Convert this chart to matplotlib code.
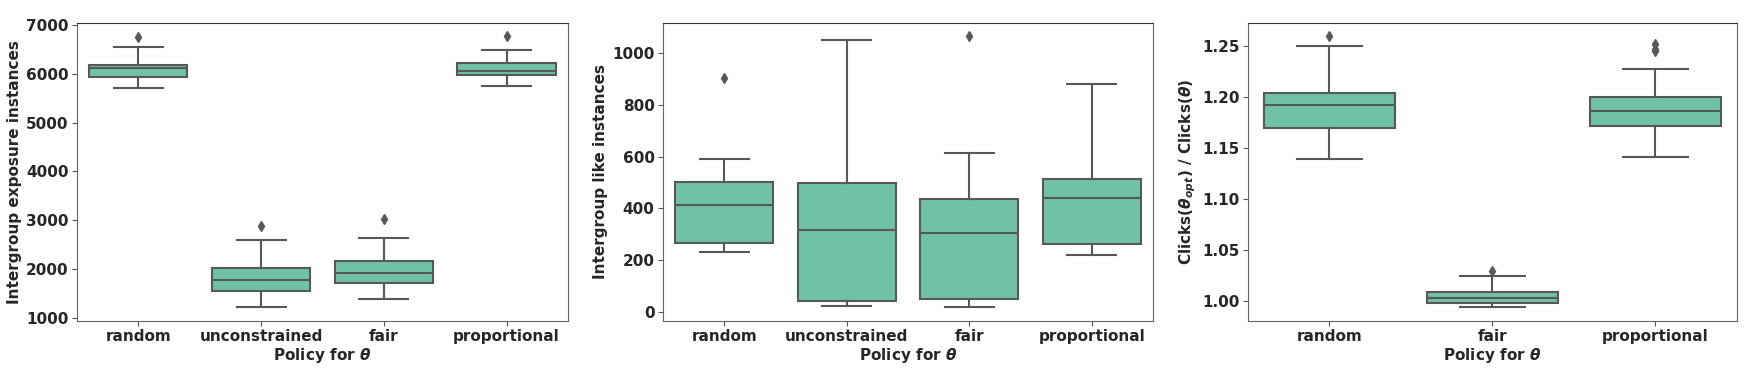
import matplotlib.pyplot as plt

# box statistics
policies4 = ["random", "unconstrained", "fair", "proportional"]
policies3 = ["random", "fair", "proportional"]

# panel 1: intergroup exposure instances
exp_whislo = [5718, 1225, 1382, 5752]
exp_q1 = [5930, 1552, 1709, 5984]
exp_med = [6114, 1770, 1920, 6052]
exp_q3 = [6189, 2016, 2166, 6230]
exp_whishi = [6557, 2602, 2643, 6495]
exp_fliers = [[6748], [2875], [3032], [6775]]

# panel 2: intergroup like instances
like_whislo = [233, 23, 19, 222]
like_q1 = [267, 45, 53, 263]
like_med = [414, 318, 305, 442]
like_q3 = [503, 500, 436, 514]
like_whishi = [591, 1047, 614, 878]
like_fliers = [[904], [], [1064], []]

# panel 3: click ratio
clk_whislo = [1.1394, 0.9941, 1.1417]
clk_q1 = [1.1704, 0.9984, 1.1720]
clk_med = [1.1923, 1.0029, 1.1867]
clk_q3 = [1.2040, 1.0095, 1.2001]
clk_whishi = [1.2500, 1.0248, 1.2278]
clk_fliers = [[1.2601], [1.0300], [1.2526, 1.2471, 1.2451]]

plt.rcParams['font.family'] = ['DejaVu Sans']
plt.rcParams['font.weight'] = 'bold'
plt.rcParams['axes.labelweight'] = 'bold'
plt.rcParams['mathtext.default'] = 'bfit'

face = "#6fc1a7"
line = "#585858"
txt = "#262626"
fs = 11


def stats(labels, lo, q1, med, q3, hi, fl):
    out = []
    for i in range(len(labels)):
        out.append(dict(label=labels[i], whislo=lo[i], q1=q1[i], med=med[i],
                        q3=q3[i], whishi=hi[i], fliers=fl[i]))
    return out


def draw(ax, st, ylabel, ylim):
    ax.bxp(st, positions=range(len(st)), widths=0.8, patch_artist=True,
           boxprops=dict(facecolor=face, edgecolor=line, linewidth=1.5),
           medianprops=dict(color=line, linewidth=1.5),
           whiskerprops=dict(color=line, linewidth=1.5),
           capprops=dict(color=line, linewidth=1.5),
           flierprops=dict(marker='d', markerfacecolor=line, markeredgecolor=line,
                           markersize=5))
    ax.set_xlim(-0.5, len(st) - 0.5)
    ax.set_ylim(ylim)
    ax.set_xlabel(r"Policy for $\theta$", fontsize=fs, color=txt, labelpad=1)
    ax.set_ylabel(ylabel, fontsize=fs, color=txt, labelpad=3)
    ax.tick_params(labelsize=fs, labelcolor=txt, color="#555555", length=3.5, pad=2.5)
    for s in ax.spines.values():
        s.set_color("#666666")
    ax.spines['top'].set_color("#333333")
    for t in ax.get_xticklabels() + ax.get_yticklabels():
        t.set_fontweight('bold')


fig = plt.figure(figsize=(17.52, 3.8), dpi=100)
ax1 = fig.add_axes([0.04395, 0.1553, 0.2802, 0.7842])
ax2 = fig.add_axes([0.3784, 0.1553, 0.2797, 0.7842])
ax3 = fig.add_axes([0.7123, 0.1553, 0.2791, 0.7842])

draw(ax1, stats(policies4, exp_whislo, exp_q1, exp_med, exp_q3, exp_whishi, exp_fliers),
     "Intergroup exposure instances", (938, 7040))
draw(ax2, stats(policies4, like_whislo, like_q1, like_med, like_q3, like_whishi, like_fliers),
     "Intergroup like instances", (-33, 1114))
draw(ax3, stats(policies3, clk_whislo, clk_q1, clk_med, clk_q3, clk_whishi, clk_fliers),
     r"Clicks($\theta_{opt}$) / Clicks($\theta$)", (0.9807, 1.2729))
ax3.set_yticks([1.00, 1.05, 1.10, 1.15, 1.20, 1.25])
ax3.set_yticklabels(["1.00", "1.05", "1.10", "1.15", "1.20", "1.25"])
for t in ax3.get_yticklabels():
    t.set_fontweight('bold')

fig.savefig("out.png", dpi=100)
